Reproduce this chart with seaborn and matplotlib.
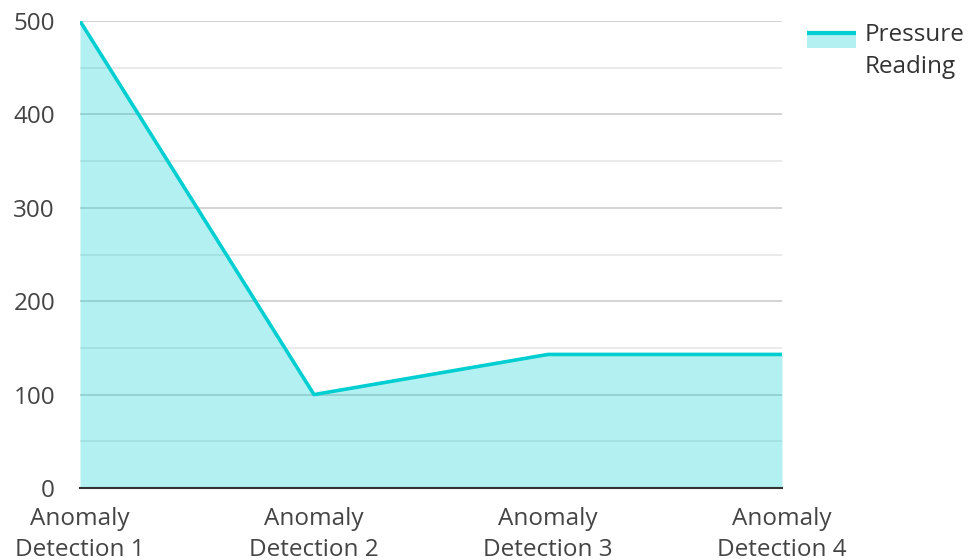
import matplotlib
matplotlib.use("Agg")
import matplotlib.pyplot as plt
import seaborn as sns
import pandas as pd
from matplotlib.patches import Patch, Rectangle
from matplotlib.lines import Line2D
from matplotlib.legend_handler import HandlerBase

categories = ["Anomaly\nDetection 1", "Anomaly\nDetection 2", "Anomaly\nDetection 3", "Anomaly\nDetection 4"]
pressure = [500, 100, 143, 143]
series_name = "Pressure\nReading"
y_ticks = [0, 100, 200, 300, 400, 500]

sns.set_style("white")
plt.rcParams["font.family"] = ["Open Sans", "DejaVu Sans"]

line_color = "#00CED1"
df = pd.DataFrame({"x": range(len(categories)), "value": pressure})


class AreaHandler(HandlerBase):
    """Legend key: translucent band with the series line along its top edge,
    aligned with the first line of the label."""

    lift = 8.0

    def create_artists(self, legend, orig_handle, xdescent, ydescent,
                       width, height, fontsize, trans):
        y0 = -ydescent + self.lift
        rect = Rectangle((-xdescent, y0), width, height,
                         facecolor=line_color, alpha=0.3, lw=0, transform=trans)
        top = y0 + height
        line = Line2D([-xdescent, -xdescent + width], [top, top],
                      color=line_color, lw=3, solid_capstyle="butt", transform=trans)
        return [rect, line]


fig = plt.figure(figsize=(9.71, 5.6), dpi=100)
ax = fig.add_axes([80 / 971, 1 - 488 / 560, (782 - 80) / 971, (488 - 21) / 560])

# grid: major every 100, minor every 50
for v in range(50, 501, 50):
    major = v % 100 == 0
    ax.axhline(v, color="#cccccc" if major else "#e6e6e6", lw=1.2, zorder=0)

ax.fill_between(df["x"], df["value"], 0, color=line_color, alpha=0.3, lw=0, zorder=1)
sns.lineplot(data=df, x="x", y="value", ax=ax, color=line_color, lw=2.6, zorder=3,
             legend=False)

ax.set_xlim(0, len(categories) - 1)
ax.set_ylim(0, 500)
ax.set_xticks(range(len(categories)))
ax.set_xticklabels(categories, linespacing=1.38)
ax.set_yticks(y_ticks)
ax.tick_params(axis="both", length=0, labelsize=17.5, labelcolor="#444444")
ax.tick_params(axis="x", pad=14)
ax.tick_params(axis="y", pad=18)
ax.set_xlabel("")
ax.set_ylabel("")
for s in ["top", "right", "left"]:
    ax.spines[s].set_visible(False)
ax.spines["bottom"].set_color("#333333")
ax.spines["bottom"].set_linewidth(1.5)
ax.spines["bottom"].set_zorder(4)

handle = Patch()
leg = fig.legend([handle], [series_name], loc="upper left",
                 bbox_to_anchor=(807 / 971, 1 - 23 / 560), frameon=False,
                 borderpad=0, borderaxespad=0,
                 fontsize=17.5, handlelength=2.0, handleheight=0.55, handletextpad=0.37,
                 labelcolor="#333333", handler_map={Patch: AreaHandler()})
for t in leg.get_texts():
    t.set_linespacing(1.45)

fig.savefig("out.png", dpi=100)
